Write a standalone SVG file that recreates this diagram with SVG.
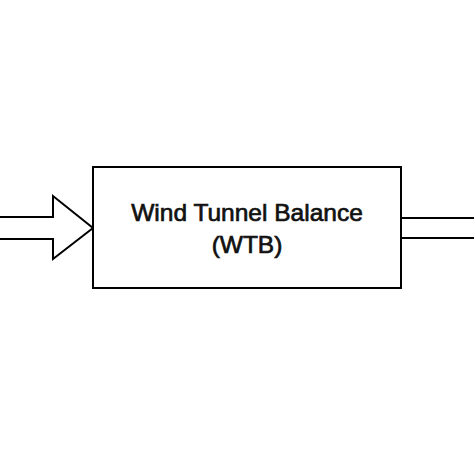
<svg xmlns="http://www.w3.org/2000/svg" width="474" height="474" viewBox="0 0 474 474">
<style>
.s{fill:none;stroke:#000;stroke-width:2}
.t{font-family:"Liberation Sans",Arial,sans-serif;font-size:24.5px;fill:#111;stroke:#111;stroke-width:0.7;text-anchor:middle}
</style>
<rect width="474" height="474" fill="#fff"/>
<g id="connectors">
<path class="s" d="M0 217H53V196L93 228L53 259V239H0" fill="#fff" stroke-linejoin="miter"/>
<path class="s" d="M401 218H474M401 238H474"/>
</g>
<g id="wtb">
<rect x="93" y="167" width="308" height="121" fill="#fff" stroke="#000" stroke-width="2"/>
<text class="t" x="247" y="221">Wind Tunnel Balance</text>
<text class="t" x="247" y="253">(WTB)</text>
</g>
</svg>
